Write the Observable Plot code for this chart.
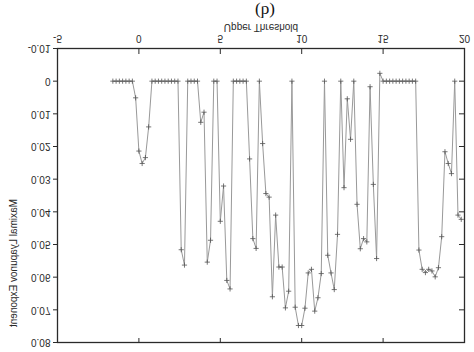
<!DOCTYPE html>
<html>
<head>
<meta charset="utf-8">
<script src="https://cdn.jsdelivr.net/npm/d3@7"></script>
<script src="https://cdn.jsdelivr.net/npm/@observablehq/plot@0.6"></script>
<style>
  html, body { margin: 0; padding: 0; background: white; }
  #flip { width: 474px; height: 352px; transform: scaleY(-1); transform-origin: 50% 50%; }
  #flip svg { display: block; }
</style>
</head>
<body>
<div id="flip"></div>
<script>
const thresholds = [-1.6,-1.4,-1.2,-1.0,-0.8,-0.6,-0.4,-0.2,0,0.2,0.4,0.6,0.8,1.0,1.2,1.4,1.6,1.8,2.0,2.2,2.4,2.6,2.8,3.0,3.2,3.4,3.6,3.8,4.0,4.2,4.4,4.6,4.8,5.0,5.2,5.4,5.6,5.8,6.0,6.2,6.4,6.6,6.8,7.0,7.2,7.4,7.6,7.8,8.0,8.2,8.4,8.6,8.8,9.0,9.2,9.4,9.6,9.8,10.0,10.2,10.4,10.6,10.8,11.0,11.2,11.4,11.6,11.8,12.0,12.2,12.4,12.6,12.8,13.0,13.2,13.4,13.6,13.8,14.0,14.2,14.4,14.6,14.8,15.0,15.2,15.4,15.6,15.8,16.0,16.2,16.4,16.6,16.8,17.0,17.2,17.4,17.6,17.8,18.0,18.2,18.4,18.6,18.8,19.0,19.2,19.4,19.6,19.8];
const exponents = [
  0,0,0,0,0,0,0,
  0.0051,0.0214,0.0252,0.0234,0.0140,
  0,0,0,0,0,0,0,0,0,
  0.0516,0.0563,
  0,0,0,0,
  0.0126,0.0095,0.0554,0.0487,
  0,0,
  0.0429,0.0321,0.0610,0.0636,
  0,0,0,0,0,
  0.0238,0.0482,0.0512,
  0,
  0.0191,0.0344,0.0355,0.0660,0.0410,0.0569,0.0569,0.0694,0.0643,
  0,
  0.0692,0.0748,0.0748,0.0695,0.0587,0.0576,0.0704,0.0663,0.0589,
  0,
  0.0533,0.0587,0.0638,0.0469,
  0,
  0.0326,0.0054,0.0178,
  0,
  0.0377,0.0513,0.0482,0.0492,0.0017,0.0316,0.0543,-0.0024,
  0,0,0,0,0,0,0,0,0,0,0,
  0.0517,0.0576,0.0586,0.0576,0.0581,0.0599,0.0571,0.0476,0.0216,0.0252,0.0283,
  0,
  0.0410,0.0423
];
const xTicks = [-5, 0, 5, 10, 15, 20];
const yTicks = [-0.01, 0, 0.01, 0.02, 0.03, 0.04, 0.05, 0.06, 0.07, 0.08];
const title = "(b)";
const xLabel = "Upper Threshold";
const yLabel = "Maximal Lyapunov Exponent";

const data = thresholds.map((x, i) => ({x, y: exponents[i]}));

const W = 474, H = 352, mT = 9, mB = 49, mL = 57, mR = 10;
const innerH = H - mT - mB, innerW = W - mL - mR;
const ink = "#2a2a2a";

const chart = Plot.plot({
  width: W, height: H,
  marginTop: mT, marginBottom: mB, marginLeft: mL, marginRight: mR,
  style: {fontFamily: "'Liberation Sans', Arial, sans-serif", fontSize: "10px", background: "white", color: ink},
  x: {domain: [-5, 20]},
  y: {domain: [-0.01, 0.08]},
  marks: [
    Plot.line(data, {x: "x", y: "y", stroke: "#999", strokeWidth: 1}),
    Plot.dot(data, {x: "x", y: "y", symbol: "plus", r: 1.8, stroke: "#555", strokeWidth: 0.8}),
    Plot.frame({stroke: ink, strokeWidth: 1.3}),
    Plot.tickX(xTicks, {x: d => d, insetTop: innerH - 5, stroke: ink}),
    Plot.tickX(xTicks, {x: d => d, insetBottom: innerH - 5, stroke: ink}),
    Plot.tickY(yTicks, {y: d => d, insetLeft: innerW - 5, stroke: ink}),
    Plot.axisX({ticks: xTicks, tickSize: 0, tickPadding: 6, label: null, tickFormat: d => String(d)}),
    Plot.axisY({ticks: yTicks, tickSize: 4, tickPadding: 3, label: null, stroke: ink,
      tickFormat: d => d === 0 ? "0" : d.toFixed(2)}),
    Plot.text([xLabel], {text: d => d, frameAnchor: "bottom", lineAnchor: "bottom", dy: 25, fill: ink, fontSize: 10}),
    Plot.text([yLabel], {text: d => d, frameAnchor: "left", rotate: -90, lineAnchor: "middle", dx: -44, dy: -3.5, fill: ink, fontSize: 10}),
    Plot.text([title], {text: d => d, frameAnchor: "bottom", lineAnchor: "bottom", dy: 43, dx: 4, fill: "#111",
      fontSize: 17, fontFamily: "'Liberation Serif', 'Times New Roman', serif"})
  ]
});
document.getElementById("flip").appendChild(chart);
</script>
</body>
</html>
